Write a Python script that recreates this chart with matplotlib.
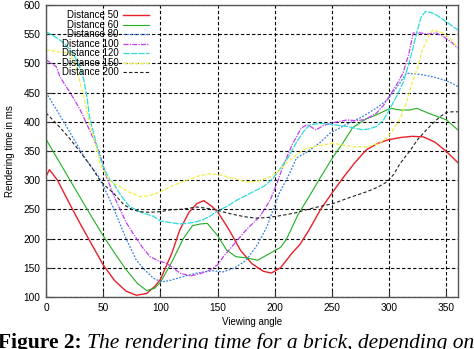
import matplotlib
matplotlib.use("Agg")
from matplotlib import pyplot as plt

# rendering time (ms) against viewing angle (deg), one series per distance
d50_angle = [0, 3, 10, 20, 30, 40, 50, 60, 70, 79, 88, 95, 100, 110, 117, 125, 132, 138, 145, 150,
             160, 170, 180, 190, 197, 205, 215, 222, 230, 240, 250, 260, 270, 280, 290, 299, 310,
             320, 330, 340, 350, 360]
d50_time = [306, 318, 300, 262, 225, 190, 155, 128, 110, 103, 106, 118, 130, 175, 215, 245, 260, 265, 255, 246,
            215, 180, 157, 144, 141, 150, 175, 190, 215, 250, 278, 305, 330, 352, 363, 369, 373,
            375, 374, 365, 349, 330]

d60_angle = [0, 6, 12, 21, 30, 40, 50, 60, 70, 80, 88, 95, 100, 110, 120, 128, 135, 141, 150, 158,
             166, 175, 185, 196, 205, 210, 220, 230, 240, 251, 260, 268, 280, 289, 301, 310, 318,
             324, 335, 345, 350, 360]
d60_time = [370, 350, 330, 300, 270, 237, 205, 175, 147, 123, 111, 115, 125, 160, 200, 222, 225, 226, 205, 180,
            169, 167, 163, 175, 185, 198, 240, 272, 305, 340, 365, 390, 405, 412, 423, 420, 420,
            423, 414, 407, 403, 386]

d80_angle = [0, 10, 20, 28, 35, 40, 46, 55, 62, 70, 79, 87, 94, 101, 108, 120, 132, 145, 155, 165,
             175, 185, 193, 204, 213, 219, 228, 240, 248, 260, 277, 290, 298, 307, 315, 322, 330,
             340, 347, 355, 360]
d80_time = [450, 418, 385, 358, 335, 322, 306, 270, 238, 200, 163, 145, 132, 126, 128, 135, 141, 145, 143, 150,
            163, 190, 220, 278, 312, 338, 348, 365, 380, 393, 409, 425, 437, 460, 483, 482, 480,
            476, 472, 466, 460]

d100_angle = [0, 5, 9, 12, 16, 21, 25, 30, 38, 44, 47, 53, 60, 65, 70, 76, 85, 91, 98, 105, 111, 117,
              126, 135, 143, 150, 155, 165, 175, 187, 196, 202, 207, 215, 223, 228, 231, 236, 242,
              248, 255, 263, 270, 277, 283, 289, 295, 300, 306, 312, 317, 321, 327, 334, 341, 348,
              355, 360]
d100_time = [506, 500, 494, 478, 465, 450, 437, 420, 386, 360, 345, 305, 270, 249, 228, 209, 183, 169, 162, 158, 150, 141,
             136, 140, 146, 155, 169, 192, 215, 238, 266, 295, 323, 360, 389, 395, 392, 386, 393,
             397, 400, 403, 402, 403, 408, 415, 428, 443, 462, 483, 515, 552, 552, 550, 552, 545,
             535, 526]

d120_angle = [0, 6, 12, 17, 21, 25, 28, 31, 33, 36, 38, 41, 44, 47, 50, 56, 59, 65, 73, 83, 94, 100,
              110, 117, 123, 130, 137, 143, 149, 158, 167, 178, 190, 198, 204, 212, 219, 225, 231,
              240, 248, 255, 263, 270, 277, 283, 289, 295, 300, 306, 312, 318, 324, 328, 332, 336,
              341, 350, 360]
d120_time = [554, 548, 540, 532, 523, 512, 500, 485, 472, 440, 409, 385, 363, 340, 323, 300, 295, 275, 255, 245, 238, 230,
             227, 225, 226, 228, 232, 238, 246, 255, 266, 277, 289, 302, 318, 340, 365, 383, 395,
             397, 396, 394, 392, 389, 386, 388, 392, 403, 420, 442, 466, 505, 552, 580, 589, 587,
             583, 571, 557]

d150_angle = [0, 10, 21, 24, 27, 30, 33, 38, 44, 47, 52, 58, 65, 72, 82, 90, 100, 110, 123, 133, 143,
              152, 164, 175, 185, 196, 203, 210, 218, 225, 235, 251, 260, 268, 280, 290, 298, 303,
              309, 315, 320, 325, 329, 334, 338, 347, 353, 359]
d150_time = [523, 520, 517, 505, 489, 466, 443, 397, 357, 330, 310, 295, 289, 280, 272, 273, 280, 290, 300, 307, 311,
             309, 303, 297, 298, 306, 315, 329, 342, 352, 358, 363, 360, 357, 357, 362, 372, 385,
             403, 432, 466, 495, 523, 545, 557, 552, 543, 529]

d200_angle = [0, 10, 20, 30, 40, 47, 53, 59, 68, 75, 82, 90, 100, 108, 117, 125, 132, 140, 149, 158,
              167, 175, 184, 193, 201, 210, 218, 225, 235, 251, 265, 280, 290, 298, 304, 309, 314,
              318, 325, 332, 338, 344, 350, 355, 360]
d200_time = [415, 395, 373, 348, 322, 300, 288, 278, 258, 250, 246, 245, 246, 249, 250, 252, 254, 252, 249, 244,
             240, 237, 235, 236, 238, 241, 244, 248, 253, 260, 270, 280, 288, 297, 310, 327, 340,
             350, 370, 385, 397, 408, 416, 417, 417]

plt.rcParams['font.family'] = ['Liberation Sans', 'DejaVu Sans']

fig = plt.figure(figsize=(4.74, 3.49), dpi=100)
ax = fig.add_axes([0.097, 0.149, 0.869, 0.837])

ax.plot(d50_angle, d50_time, color='#e8202a', lw=1.0, label='Distance 50')
ax.plot(d60_angle, d60_time, color='#20b020', lw=0.8, label='Distance 60')
ax.plot(d80_angle, d80_time, color='#3a7fe0', lw=0.9, ls=(0, (1.5, 1.2)), label='Distance 80')
ax.plot(d100_angle, d100_time, color='#c040f0', lw=0.9, ls=(0, (4, 1, 1, 1)), label='Distance 100')
ax.plot(d120_angle, d120_time, color='#30dada', lw=0.9, ls=(0, (5, 1)), label='Distance 120')
ax.plot(d150_angle, d150_time, color='#f0f040', lw=0.9, ls=(0, (3, 1.5)), label='Distance 150')
ax.plot(d200_angle, d200_time, color='#202020', lw=0.8, ls=(0, (3, 2)), label='Distance 200')

ax.set_xlim(0, 360)
ax.set_ylim(100, 600)
ax.set_xticks(range(0, 351, 50))
ax.set_yticks(range(100, 601, 50))
ax.grid(True, color='black', ls=(0, (3, 2)), lw=0.8)
ax.tick_params(direction='in', length=4, labelsize=7.3, pad=4, color='#333333')
for sp in ax.spines.values():
    sp.set_color('#555555')
    sp.set_linewidth(1.0)

ax.set_xlabel('Viewing angle', fontsize=7, labelpad=3)
ax.set_ylabel('Rendering time in ms', fontsize=7, labelpad=6)

# gnuplot-style key: right-aligned labels, line sample after the text
leg = ax.legend(loc='upper left', bbox_to_anchor=(0.025, 1.0), frameon=False, fontsize=7,
                markerfirst=False, handlelength=2.6, handletextpad=0.5, labelspacing=-0.05,
                handleheight=0.5, borderaxespad=0.15)

fig.text(-0.005, 1 - 333 / 349, 'Figure 2:', family='Liberation Serif', weight='bold',
         fontsize=15.5, va='top', ha='left')
fig.text(0.184, 1 - 333 / 349, 'The rendering time for a brick, depending on two',
         family='Liberation Serif', style='italic', fontsize=15.5, va='top', ha='left')

fig.savefig('out.png', dpi=100)
